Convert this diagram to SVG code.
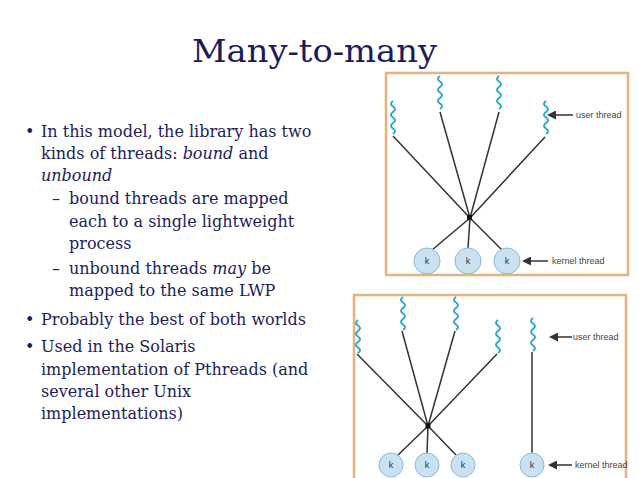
<svg xmlns="http://www.w3.org/2000/svg" width="638" height="478" viewBox="0 0 638 478">
<style>
.t{font-family:"DejaVu Serif",serif;font-size:16px;fill:#1c1c5c}
.ti{font-family:"DejaVu Serif",serif;font-size:31px;fill:#1c1c5c}
.box{fill:#fff;stroke:#e6b27e;stroke-width:2.5}
.ln{stroke:#333;stroke-width:1.5;fill:none}
.sq{stroke:#2fa5c9;stroke-width:2;fill:none}
.k{fill:#c8e2f2;stroke:#8fb8d6;stroke-width:1}
.kt{font-family:"Liberation Sans",sans-serif;font-size:9px;fill:#333;text-anchor:middle}
.lb{font-family:"Liberation Sans",sans-serif;font-size:9px;fill:#444}
</style>
<defs>
<path id="w" class="sq" d="M0,0 q-4,3 0,5.5 t0,5.5 t0,5.5 t0,5.5 t0,5.5 t0,5.5"/>
<marker id="a" markerWidth="6" markerHeight="6" refX="0" refY="3" orient="auto"><path d="M0,0 L6,3 L0,6z" fill="#333"/></marker>
</defs>
<rect width="638" height="478" fill="#fff"/>
<text class="ti" x="192" y="62" textLength="245" lengthAdjust="spacingAndGlyphs">Many-to-many</text>
<g id="text">
<text class="t" x="25" y="137">•</text><text class="t" x="41" y="137">In this model, the library has two</text>
<text class="t" x="41" y="159">kinds of threads: <tspan font-style="italic">bound</tspan> and</text>
<text class="t" x="41" y="181" font-style="italic">unbound</text>
<text class="t" x="52" y="204">–</text><text class="t" x="69" y="204">bound threads are mapped</text>
<text class="t" x="69" y="227">each to a single lightweight</text>
<text class="t" x="69" y="249">process</text>
<text class="t" x="52" y="274">–</text><text class="t" x="69" y="274">unbound threads <tspan font-style="italic">may</tspan> be</text>
<text class="t" x="69" y="296">mapped to the same LWP</text>
<text class="t" x="25" y="325">•</text><text class="t" x="41" y="325">Probably the best of both worlds</text>
<text class="t" x="25" y="352">•</text><text class="t" x="41" y="352">Used in the Solaris</text>
<text class="t" x="41" y="375">implementation of Pthreads (and</text>
<text class="t" x="41" y="397">several other Unix</text>
<text class="t" x="41" y="419">implementations)</text>
</g>
<g id="diagram1">
<rect class="box" x="386" y="73" width="242" height="202"/>
<g class="ln">
<path d="M393,136 L470,218 M440,112 L470,218 M499,112 L470,218 M545,137 L470,218 M470,218 L432,250 M470,218 L468,248 M470,218 L502,250"/>
<path d="M573,115 L556,115" marker-end="url(#a)"/>
<path d="M548,261 L531,261" marker-end="url(#a)"/>
</g>
<rect x="467" y="215" width="5" height="5" fill="#111"/>
<use href="#w" x="393" y="101"/><use href="#w" x="440" y="76"/><use href="#w" x="499" y="76"/><use href="#w" x="546" y="101"/>
<circle class="k" cx="427" cy="261" r="13"/><circle class="k" cx="468" cy="261" r="13"/><circle class="k" cx="507" cy="261" r="13"/>
<text class="kt" x="427" y="264">k</text><text class="kt" x="468" y="264">k</text><text class="kt" x="507" y="264">k</text>
<text class="lb" x="576" y="118">user thread</text>
<text class="lb" x="552" y="264">kernel thread</text>
</g>
<g id="diagram2">
<rect class="box" x="354" y="295" width="272" height="190"/>
<g class="ln">
<path d="M357,354 L428,426 M402,331 L428,426 M455,331 L428,426 M497,354 L428,426 M428,426 L398,455 M428,426 L427,453 M428,426 L456,455 M532,352 L532,453"/>
<path d="M572,337 L558,337" marker-end="url(#a)"/>
<path d="M572,465 L557,465" marker-end="url(#a)"/>
</g>
<rect x="425.500" y="423.500" width="5" height="5" fill="#111"/>
<use href="#w" x="358" y="320"/><use href="#w" x="403" y="297"/><use href="#w" x="456" y="297"/><use href="#w" x="498" y="320"/><use href="#w" x="533" y="318"/>
<circle class="k" cx="391" cy="465" r="12"/><circle class="k" cx="427" cy="465" r="12"/><circle class="k" cx="463" cy="465" r="12"/><circle class="k" cx="532" cy="465" r="12"/>
<text class="kt" x="391" y="468">k</text><text class="kt" x="427" y="468">k</text><text class="kt" x="463" y="468">k</text><text class="kt" x="532" y="468">k</text>
<text class="lb" x="573" y="340">user thread</text>
<text class="lb" x="575" y="468">kernel thread</text>
</g>
</svg>
